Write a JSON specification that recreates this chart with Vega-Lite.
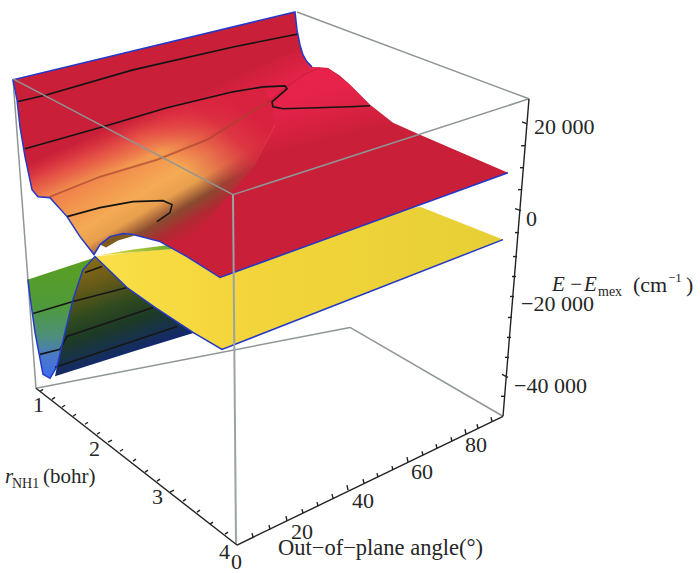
{
"$schema":"https://vega.github.io/schema/vega-lite/v6.json",
"width":700,"height":573,"autosize":{"type":"fit","contains":"padding"},"padding":0,
"background":"white",
"config":{"view":{"stroke":null}},
"encoding":{
"x":{"field":"x","type":"quantitative","axis":null,"scale":{"domain":[0,700],"nice":false,"zero":false}},
"y":{"field":"y","type":"quantitative","axis":null,"scale":{"domain":[573,0],"nice":false,"zero":false}},
"order":{"field":"o","type":"quantitative"}
},
"layer":[
{"mark":{"type":"rule","color":"#8f9696","strokeWidth":1.5},
"data":{"values":[{"x":13,"y":79,"x2":36,"y2":389},{"x":36,"y":389,"x2":350,"y2":328},{"x":350,"y":328,"x2":503,"y2":417},{"x":297,"y":12,"x2":529,"y2":99}]},
"encoding":{"x2":{"field":"x2"},"y2":{"field":"y2"}}},
{"mark":{"type":"line","strokeWidth":0,"fill":{"gradient":"linear","x1":0,"y1":0,"x2":0,"y2":1,"stops":[{"offset":0,"color":"#5aa01e"},{"offset":0.4,"color":"#4e9a3a"},{"offset":0.65,"color":"#4d8f7a"},{"offset":0.82,"color":"#4a78c8"},{"offset":1,"color":"#3f6df0"}]}},
"transform":[{"window":[{"op":"row_number","as":"o"}]}],
"data":{"values":[{"x":28,"y":280},{"x":95,"y":258},{"x":83,"y":270},{"x":73,"y":300},{"x":65,"y":333},{"x":57,"y":367},{"x":50,"y":379},{"x":43,"y":375},{"x":35,"y":333},{"x":30,"y":297}]}},
{"mark":{"type":"line","strokeWidth":0,"fill":{"gradient":"linear","x1":0.3,"y1":0,"x2":0.7,"y2":1,"stops":[{"offset":0,"color":"#8a6d16"},{"offset":0.2,"color":"#655a18"},{"offset":0.4,"color":"#2f4a1f"},{"offset":0.55,"color":"#1c3a26"},{"offset":0.68,"color":"#17324c"},{"offset":0.78,"color":"#12286e"},{"offset":1,"color":"#12286e"}]}},
"transform":[{"window":[{"op":"row_number","as":"o"}]}],
"data":{"values":[{"x":95,"y":257},{"x":127,"y":288},{"x":155,"y":308},{"x":195,"y":333},{"x":133,"y":352},{"x":55,"y":377},{"x":57,"y":367},{"x":65,"y":333},{"x":73,"y":300},{"x":83,"y":270}]}},
{"mark":{"type":"line","color":"#161616","strokeWidth":1.6},
"transform":[{"window":[{"op":"row_number","as":"o"}]}],
"data":{"values":[{"c":1,"x":85,"y":273},{"c":1,"x":102,"y":267},{"c":2,"x":33,"y":314},{"c":2,"x":73,"y":302},{"c":2,"x":127,"y":288},{"c":3,"x":40,"y":355},{"c":3,"x":60,"y":350},{"c":3,"x":67,"y":337},{"c":3,"x":153,"y":308},{"c":4,"x":55,"y":368},{"c":4,"x":177,"y":327}]},
"encoding":{"detail":{"field":"c"}}},
{"mark":{"type":"line","strokeWidth":0,"fill":{"gradient":"linear","x1":0,"y1":0,"x2":1,"y2":0,"stops":[{"offset":0,"color":"#fbe04a"},{"offset":0.3,"color":"#f5d63c"},{"offset":1,"color":"#e6cf35"}]}},
"transform":[{"window":[{"op":"row_number","as":"o"}]}],
"data":{"values":[{"x":95,"y":257},{"x":130,"y":253},{"x":175,"y":249},{"x":420,"y":207},{"x":503,"y":240},{"x":222,"y":350},{"x":193,"y":333},{"x":155,"y":308},{"x":127,"y":288}]}},
{"mark":{"type":"line","strokeWidth":0,"fill":{"gradient":"linear","x1":0,"y1":0,"x2":1,"y2":0,"stops":[{"offset":0,"color":"#f5dc45"},{"offset":0.4,"color":"#b8c93a"},{"offset":1,"color":"#62a82a"}]}},
"transform":[{"window":[{"op":"row_number","as":"o"}]}],
"data":{"values":[{"x":97,"y":256},{"x":133,"y":250},{"x":165,"y":246},{"x":178,"y":249},{"x":130,"y":253}]}},
{"mark":{"type":"line","color":"#2438c8","strokeWidth":1.5},
"transform":[{"window":[{"op":"row_number","as":"o"}]}],
"data":{"values":[{"x":503,"y":240},{"x":222,"y":350},{"x":193,"y":333},{"x":155,"y":308},{"x":127,"y":288},{"x":95,"y":257},{"x":83,"y":270},{"x":73,"y":300},{"x":65,"y":333},{"x":57,"y":367},{"x":50,"y":379},{"x":43,"y":375},{"x":35,"y":333},{"x":30,"y":297},{"x":28,"y":280}]}},
{"mark":{"type":"line","strokeWidth":0,"fill":"#7f5a20"},
"transform":[{"window":[{"op":"row_number","as":"o"}]}],
"data":{"values":[{"x":100,"y":245},{"x":110,"y":237},{"x":123,"y":234},{"x":135,"y":236},{"x":118,"y":241},{"x":106,"y":248}]}},
{"mark":{"type":"line","strokeWidth":0,"fill":"#c91f38"},
"transform":[{"window":[{"op":"row_number","as":"o"}]}],
"data":{"values":[{"x":13,"y":80},{"x":295,"y":12},{"x":297,"y":30},{"x":300,"y":45},{"x":303,"y":55},{"x":307,"y":62},{"x":312,"y":67},{"x":328,"y":68},{"x":340,"y":76},{"x":350,"y":85},{"x":370,"y":105},{"x":393,"y":123},{"x":420,"y":135},{"x":508,"y":173},{"x":220,"y":278},{"x":187,"y":257},{"x":160,"y":242},{"x":133,"y":235},{"x":123,"y":234},{"x":110,"y":237},{"x":100,"y":245},{"x":94,"y":255},{"x":80,"y":237},{"x":67,"y":217},{"x":50,"y":198},{"x":38,"y":197},{"x":32,"y":190},{"x":25,"y":157},{"x":20,"y":127},{"x":17,"y":100}]}},
{"mark":{"type":"line","strokeWidth":0,"fill":{"gradient":"linear","x1":0,"y1":0,"x2":1,"y2":1,"stops":[{"offset":0.42,"color":"rgba(232,35,75,0)"},{"offset":0.62,"color":"rgba(232,35,75,0.95)"},{"offset":1,"color":"rgba(232,35,75,1)"}]}},
"transform":[{"window":[{"op":"row_number","as":"o"}]}],
"data":{"values":[{"x":120,"y":118},{"x":220,"y":85},{"x":298,"y":50},{"x":312,"y":67},{"x":290,"y":90},{"x":250,"y":112},{"x":170,"y":142},{"x":130,"y":150}]}},
{"mark":{"type":"line","strokeWidth":0,"fill":{"gradient":"linear","x1":0.3,"y1":0,"x2":0.7,"y2":1,"stops":[{"offset":0,"color":"rgba(232,35,75,1)"},{"offset":0.3,"color":"rgba(232,35,75,0.95)"},{"offset":0.55,"color":"rgba(232,35,75,0.5)"},{"offset":0.75,"color":"rgba(232,35,75,0)"}]}},
"transform":[{"window":[{"op":"row_number","as":"o"}]}],
"data":{"values":[{"x":270,"y":100},{"x":312,"y":67},{"x":328,"y":68},{"x":350,"y":85},{"x":370,"y":105},{"x":393,"y":123},{"x":340,"y":140},{"x":290,"y":150},{"x":240,"y":165}]}},
{"mark":{"type":"line","strokeWidth":0,"fill":{"gradient":"linear","x1":0,"y1":0,"x2":1,"y2":1,"stops":[{"offset":0.35,"color":"rgba(234,70,72,0)"},{"offset":0.45,"color":"rgba(234,90,72,0.8)"},{"offset":0.57,"color":"#f39a50"},{"offset":1,"color":"#f39a50"}]}},
"transform":[{"window":[{"op":"row_number","as":"o"}]}],
"data":{"values":[{"x":25,"y":150},{"x":103,"y":127},{"x":167,"y":108},{"x":250,"y":90},{"x":267,"y":103},{"x":247,"y":115},{"x":207,"y":140},{"x":157,"y":160},{"x":100,"y":177},{"x":50,"y":197},{"x":38,"y":197},{"x":32,"y":190}]}},
{"mark":{"type":"line","strokeWidth":0,"fill":{"gradient":"linear","x1":0,"y1":0,"x2":1,"y2":1,"stops":[{"offset":0.25,"color":"#ee6a48"},{"offset":0.4,"color":"#f2944e"},{"offset":0.5,"color":"#f5aa54"},{"offset":0.57,"color":"#e8a04e"},{"offset":0.64,"color":"#8a4a30"},{"offset":0.7,"color":"#b02a32"},{"offset":0.76,"color":"#c91f38"}]}},
"transform":[{"window":[{"op":"row_number","as":"o"}]}],
"data":{"values":[{"x":38,"y":197},{"x":50,"y":197},{"x":100,"y":177},{"x":157,"y":160},{"x":207,"y":140},{"x":247,"y":115},{"x":275,"y":125},{"x":255,"y":165},{"x":225,"y":200},{"x":190,"y":240},{"x":160,"y":242},{"x":133,"y":235},{"x":123,"y":234},{"x":110,"y":237},{"x":100,"y":245},{"x":94,"y":255},{"x":80,"y":237},{"x":67,"y":217},{"x":50,"y":198}]}},
{"mark":{"type":"line","strokeWidth":0,"fill":{"gradient":"linear","x1":0,"y1":1,"x2":1,"y2":0,"stops":[{"offset":0.35,"color":"rgba(217,34,63,0)"},{"offset":0.65,"color":"rgba(217,34,63,0.85)"},{"offset":0.8,"color":"rgba(217,34,63,1)"},{"offset":1,"color":"rgba(217,34,63,1)"}]}},
"transform":[{"window":[{"op":"row_number","as":"o"}]}],
"data":{"values":[{"x":130,"y":118},{"x":167,"y":108},{"x":233,"y":92},{"x":263,"y":87},{"x":272,"y":102},{"x":275,"y":125},{"x":255,"y":165},{"x":225,"y":200},{"x":200,"y":210},{"x":170,"y":170},{"x":150,"y":155}]}},
{"mark":{"type":"line","color":"#a5452f","strokeWidth":2,"opacity":0.6},
"transform":[{"window":[{"op":"row_number","as":"o"}]}],
"data":{"values":[{"x":50,"y":197},{"x":75,"y":187},{"x":100,"y":177},{"x":157,"y":160},{"x":207,"y":140},{"x":247,"y":115},{"x":267,"y":103}]}},
{"mark":{"type":"line","color":"#c01c38","strokeWidth":1.5,"opacity":0.6},
"transform":[{"window":[{"op":"row_number","as":"o"}]}],
"data":{"values":[{"x":267,"y":103},{"x":287,"y":87},{"x":305,"y":74},{"x":320,"y":68}]}},
{"mark":{"type":"line","color":"#141414","strokeWidth":1.6},
"transform":[{"window":[{"op":"row_number","as":"o"}]}],
"data":{"values":[{"c":1,"x":17,"y":102},{"c":1,"x":47,"y":95},{"c":1,"x":133,"y":70},{"c":1,"x":233,"y":47},{"c":1,"x":298,"y":34},{"c":2,"x":25,"y":149},{"c":2,"x":103,"y":127},{"c":2,"x":167,"y":108},{"c":2,"x":233,"y":92},{"c":2,"x":263,"y":87},{"c":2,"x":285,"y":86},{"c":2,"x":287,"y":89},{"c":2,"x":272,"y":102},{"c":2,"x":273,"y":107},{"c":2,"x":283,"y":109},{"c":2,"x":317,"y":108},{"c":2,"x":350,"y":107},{"c":2,"x":370,"y":106},{"c":3,"x":67,"y":217},{"c":3,"x":100,"y":208},{"c":3,"x":133,"y":202},{"c":3,"x":163,"y":201},{"c":3,"x":172,"y":205},{"c":3,"x":170,"y":213},{"c":3,"x":157,"y":222}]},
"encoding":{"detail":{"field":"c"}}},
{"mark":{"type":"line","color":"#2438c8","strokeWidth":1.5},
"transform":[{"window":[{"op":"row_number","as":"o"}]}],
"data":{"values":[{"x":508,"y":173},{"x":220,"y":278},{"x":187,"y":257},{"x":160,"y":242},{"x":133,"y":235},{"x":123,"y":234},{"x":110,"y":237},{"x":100,"y":245},{"x":94,"y":255},{"x":80,"y":237},{"x":67,"y":217},{"x":50,"y":198},{"x":38,"y":197},{"x":32,"y":190},{"x":25,"y":157},{"x":20,"y":127},{"x":17,"y":100},{"x":13,"y":80},{"x":295,"y":12},{"x":297,"y":30},{"x":300,"y":45},{"x":303,"y":55},{"x":307,"y":62},{"x":312,"y":67}]}},
{"mark":{"type":"rule","color":"#8f9696","strokeWidth":1.5},
"data":{"values":[{"x":13,"y":79,"x2":233,"y2":195},{"x":233,"y":195,"x2":529,"y2":99}]},
"encoding":{"x2":{"field":"x2"},"y2":{"field":"y2"}}},
{"mark":{"type":"rule","color":"#9aa3a3","strokeWidth":2},
"data":{"values":[{"x":233,"y":195,"x2":236,"y2":545}]},
"encoding":{"x2":{"field":"x2"},"y2":{"field":"y2"}}},
{"mark":{"type":"rule","color":"#222222","strokeWidth":1.4},
"data":{"values":[{"x":36,"y":389,"x2":237,"y2":546},{"x":237,"y":546,"x2":503,"y2":417},{"x":503,"y":417,"x2":529,"y2":99},
{"x":40,"y":392,"x2":43,"y2":390},{"x":52,"y":400,"x2":55,"y2":398},{"x":62,"y":408,"x2":65,"y2":406},{"x":73,"y":417,"x2":76,"y2":415},{"x":85,"y":425,"x2":88,"y2":423},{"x":97,"y":435,"x2":100,"y2":433},{"x":108,"y":443,"x2":112,"y2":441},{"x":120,"y":452,"x2":123,"y2":450},{"x":133,"y":462,"x2":136,"y2":460},{"x":145,"y":473,"x2":148,"y2":471},{"x":157,"y":482,"x2":160,"y2":480},{"x":170,"y":493,"x2":174,"y2":491},{"x":183,"y":502,"x2":186,"y2":500},{"x":197,"y":513,"x2":200,"y2":511},{"x":210,"y":525,"x2":213,"y2":523},{"x":225,"y":535,"x2":228,"y2":533},
{"x":253,"y":538,"x2":252,"y2":534},{"x":270,"y":530,"x2":269,"y2":526},{"x":287,"y":522,"x2":286,"y2":517},{"x":303,"y":514,"x2":302,"y2":510},{"x":318,"y":507,"x2":317,"y2":503},{"x":333,"y":499,"x2":332,"y2":495},{"x":348,"y":491,"x2":347,"y2":486},{"x":364,"y":484,"x2":363,"y2":480},{"x":378,"y":478,"x2":377,"y2":474},{"x":393,"y":471,"x2":392,"y2":467},{"x":408,"y":463,"x2":407,"y2":458},{"x":423,"y":456,"x2":422,"y2":452},{"x":437,"y":449,"x2":436,"y2":445},{"x":452,"y":442,"x2":451,"y2":438},{"x":466,"y":435,"x2":465,"y2":430},{"x":478,"y":429,"x2":477,"y2":425},{"x":492,"y":422,"x2":491,"y2":418},
{"x":505,"y":397,"x2":501,"y2":397},{"x":508,"y":378,"x2":502,"y2":375},{"x":509,"y":358,"x2":505,"y2":358},{"x":511,"y":338,"x2":507,"y2":338},{"x":512,"y":318,"x2":508,"y2":318},{"x":514,"y":297,"x2":510,"y2":297},{"x":516,"y":277,"x2":512,"y2":277},{"x":517,"y":257,"x2":513,"y2":257},{"x":519,"y":233,"x2":515,"y2":233},{"x":521,"y":211,"x2":515,"y2":209},{"x":522,"y":190,"x2":518,"y2":190},{"x":524,"y":168,"x2":520,"y2":168},{"x":525,"y":146,"x2":521,"y2":146},{"x":527,"y":124,"x2":522,"y2":122}]},
"encoding":{"x2":{"field":"x2"},"y2":{"field":"y2"}}},
{"mark":{"type":"text","font":"Liberation Serif","align":"left","baseline":"middle","color":"#262626"},
"data":{"values":[
{"x":534,"y":127,"label":"20 000","size":22},
{"x":526,"y":219,"label":"0","size":22},
{"x":521,"y":305,"label":"−20 000","size":22},
{"x":514,"y":387,"label":"−40 000","size":22},
{"x":33,"y":406,"label":"1","size":22},
{"x":89,"y":450,"label":"2","size":22},
{"x":152,"y":498,"label":"3","size":22},
{"x":219,"y":553,"label":"4","size":22},
{"x":231,"y":563,"label":"0","size":22},
{"x":291,"y":533,"label":"20","size":22},
{"x":352,"y":502,"label":"40","size":22},
{"x":411,"y":473,"label":"60","size":22},
{"x":465,"y":446,"label":"80","size":22},
{"x":278,"y":549,"label":"Out−of−plane angle(°)","size":22.5},
{"x":12,"y":485,"label":"NH1","size":14},
{"x":43,"y":478,"label":"(bohr)","size":21},
{"x":598,"y":293,"label":"mex","size":14},
{"x":633,"y":285,"label":"(cm","size":22},
{"x":668,"y":278,"label":"−1","size":13},
{"x":686,"y":285,"label":")","size":22}
]},
"encoding":{"text":{"field":"label"},"size":{"field":"size","type":"quantitative","scale":null}}},
{"mark":{"type":"text","font":"Liberation Serif","fontStyle":"italic","align":"left","baseline":"middle","color":"#262626"},
"data":{"values":[
{"x":5,"y":478,"label":"r","size":21},
{"x":552,"y":285,"label":"E","size":21},
{"x":569,"y":285,"label":"−","size":21},
{"x":584,"y":285,"label":"E","size":21}
]},
"encoding":{"text":{"field":"label"},"size":{"field":"size","type":"quantitative","scale":null}}}
]
}
